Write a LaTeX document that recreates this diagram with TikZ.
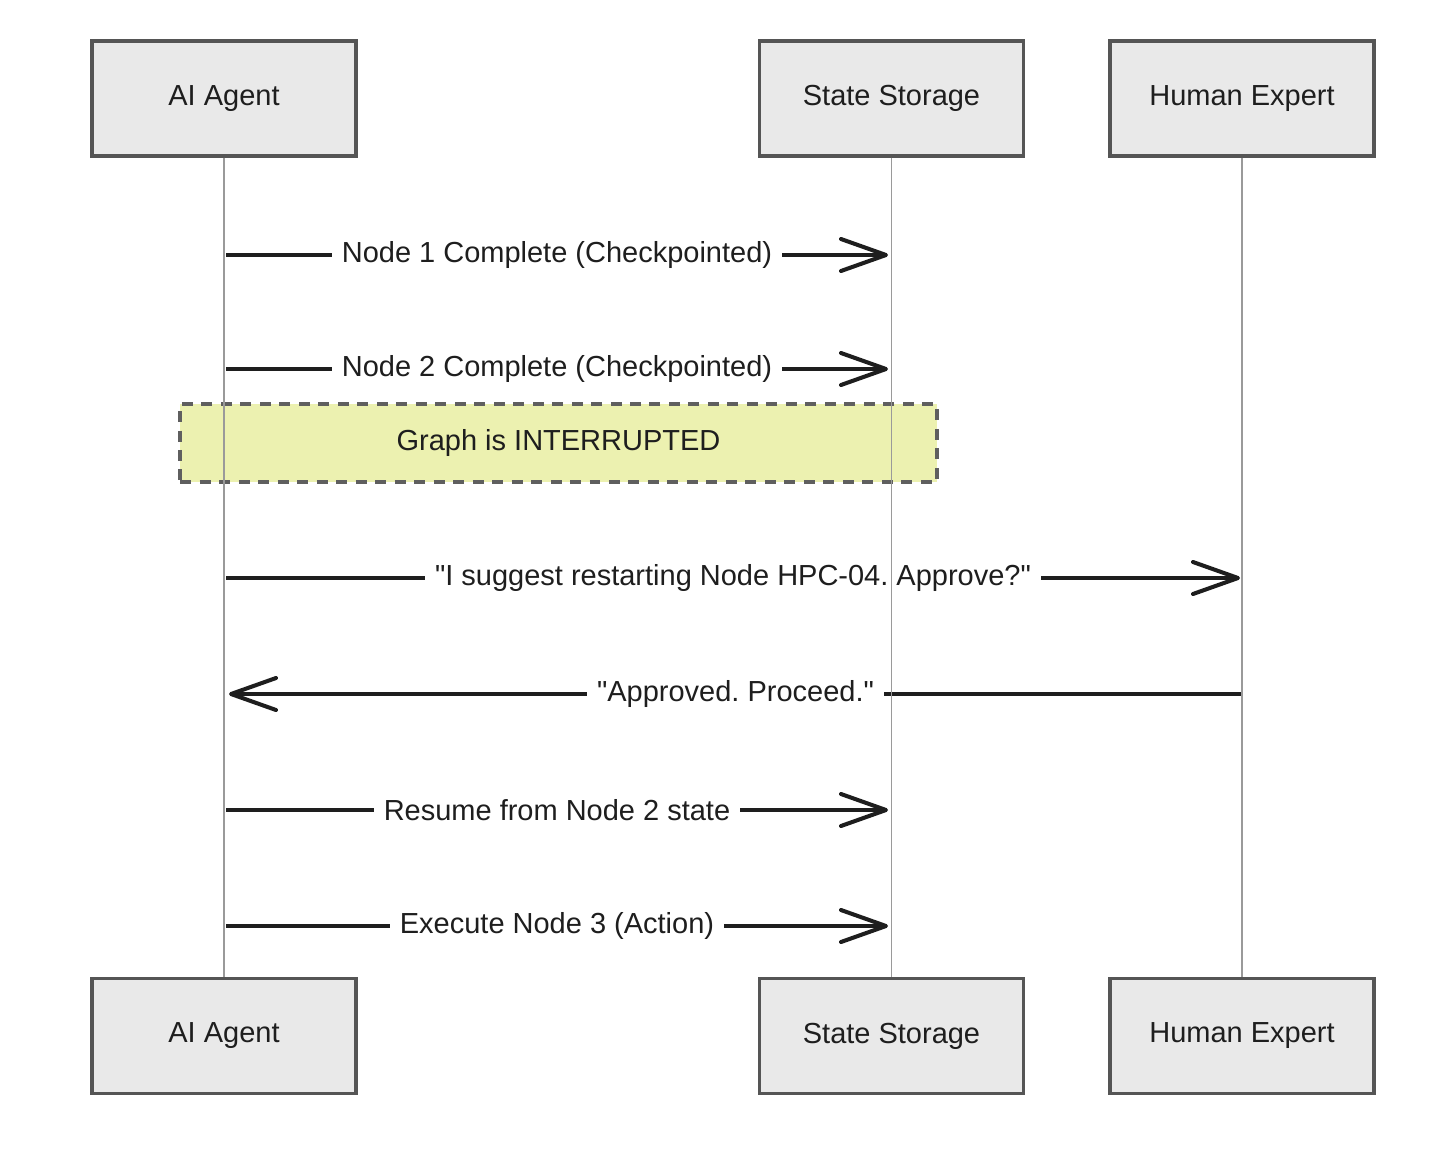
\documentclass[tikz,border=0pt]{standalone}
\usepackage{fontspec}
\setmainfont{Liberation Sans}[Ligatures=TeXOff]
\usetikzlibrary{arrows.meta}
\definecolor{boxfill}{HTML}{E9E9E9}
\definecolor{boxline}{HTML}{555555}
\definecolor{notefill}{HTML}{ECF1B0}
\definecolor{noteline}{HTML}{5F5F5F}
\definecolor{lifegray}{HTML}{9A9A9A}
\definecolor{ink}{HTML}{1E1E1E}
\frenchspacing
\begin{document}
\begin{tikzpicture}[x=0.02cm,y=-0.02cm,
  actor/.style={draw=boxline,line width=1.9pt,fill=boxfill,minimum width=5.28cm,minimum height=2.3cm,text=ink,font=\fontsize{16.5}{20}\selectfont},
  note/.style={draw=noteline,dash pattern=on 0.22cm off 0.17cm,line width=2pt,fill=notefill,minimum width=15.14cm,minimum height=1.56cm,text=ink,font=\fontsize{16.5}{20}\selectfont},
  msg/.style={draw=ink,line width=2.3pt,-{Straight Barb[length=0.9cm,width=0.64cm,round]}},
  lbl/.style={fill=white,inner xsep=0.2cm,inner ysep=0.1cm,text=ink,font=\fontsize{16.5}{20}\selectfont},
  life/.style={draw=lifegray,line width=0.9pt}]
 \useasboundingbox (0,0) rectangle (1456,1156);
 \foreach \nm/\xx/\txt in {agent/224/AI Agent,store/891.5/State Storage,human/1242/Human Expert}{
   \node[actor] (\nm T) at (\xx,98.5) {\txt};
   \node[actor] (\nm B) at (\xx,1036) {\txt};
 }
 \node[note] (note) at (558.5,443) {Graph is INTERRUPTED};
 \foreach \yy/\nm in {255/1,369/2,578/3,694/4,810/5,926/6}{
   \coordinate (a\nm) at (226,\yy);
   \coordinate (s\nm) at (888,\yy);
   \coordinate (h\nm) at (1240,\yy);
 }
 \coordinate (a4) at (229,694);
 \coordinate (h4) at (1242,694);
 \draw[msg] (a1) -- node[lbl] {Node 1 Complete (Checkpointed)} (s1);
 \draw[msg] (a2) -- node[lbl] {Node 2 Complete (Checkpointed)} (s2);
 \draw[msg] (a3) -- node[lbl] {"I suggest restarting Node HPC-04. Approve?"} (h3);
 \draw[msg] (h4) -- node[lbl] {"Approved. Proceed."} (a4);
 \draw[msg] (a5) -- node[lbl] {Resume from Node 2 state} (s5);
 \draw[msg] (a6) -- node[lbl] {Execute Node 3 (Action)} (s6);
 \foreach \nm in {agent,store,human}
   \draw[life] (\nm T) -- (\nm B);
\end{tikzpicture}
\end{document}
